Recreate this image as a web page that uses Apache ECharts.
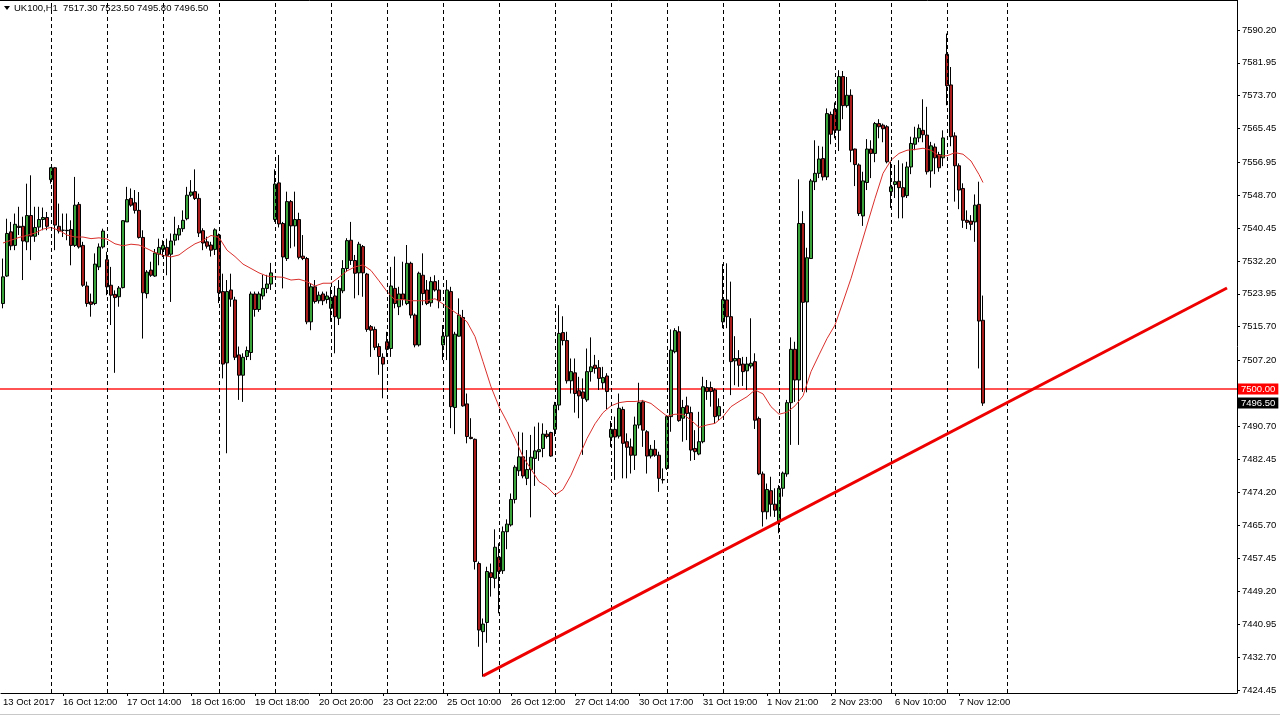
<!DOCTYPE html>
<html><head><meta charset="utf-8">
<script src="https://cdn.jsdelivr.net/npm/echarts@6/dist/echarts.min.js"></script>
<style>html,body{margin:0;padding:0;background:#fff;overflow:hidden}#c{width:1280px;height:720px}</style>
</head><body><div id="c"></div>
<script>
// ---- data (UK100, H1) ----
const opens = [7521.5,7528.4,7539.5,7536.1,7540.9,7540.9,7537.0,7543.6,7538.4,7540.7,7542.6,7543.1,7552.6,7555.6,7540.9,7539.9,7539.9,7540.1,7536.1,7546.4,7536.1,7525.9,7521.9,7521.5,7530.7,7535.7,7532.5,7526.1,7523.8,7523.2,7525.5,7542.0,7547.9,7546.8,7544.9,7538.1,7524.0,7529.9,7528.4,7533.9,7535.1,7535.6,7533.9,7537.4,7538.7,7540.3,7542.8,7548.7,7549.6,7547.9,7539.8,7537.0,7536.2,7535.1,7538.7,7524.5,7506.6,7524.9,7522.4,7508.6,7503.5,7508.2,7509.2,7523.9,7520.0,7523.4,7525.3,7526.4,7542.6,7551.8,7541.6,7532.8,7547.1,7541.0,7542.6,7533.4,7532.8,7516.9,7525.7,7522.2,7523.9,7522.5,7520.3,7523.4,7517.8,7524.7,7530.3,7537.4,7532.3,7529.2,7535.8,7528.9,7515.7,7515.0,7510.7,7508.0,7511.9,7510.2,7525.3,7520.7,7523.9,7521.5,7531.6,7518.6,7511.1,7528.6,7524.9,7521.7,7527.0,7524.9,7511.1,7513.3,7524.5,7495.4,7513.3,7518.0,7496.3,7487.9,7487.4,7456.2,7439.1,7441.4,7453.9,7452.5,7457.8,7454.4,7464.2,7465.9,7472.3,7479.5,7483.0,7477.6,7479.8,7482.6,7484.3,7485.1,7488.7,7489.1,7489.9,7496.0,7514.2,7512.2,7502.1,7504.1,7499.6,7499.3,7497.3,7504.4,7506.0,7505.4,7501.6,7503.3,7487.9,7489.9,7488.2,7494.9,7486.8,7485.5,7483.4,7491.0,7496.8,7489.3,7483.2,7484.9,7483.4,7477.3,7480.1,7493.1,7509.4,7514.4,7492.7,7495.8,7494.1,7485.1,7483.7,7486.8,7500.4,7500.4,7499.8,7493.3,7516.9,7522.4,7518.2,7507.1,7507.7,7506.3,7504.6,7505.8,7506.9,7492.6,7478.7,7469.2,7474.5,7471.1,7466.7,7475.1,7478.7,7496.6,7510.0,7502.3,7541.6,7521.9,7532.8,7552.1,7554.2,7557.9,7553.3,7569.0,7570.3,7565.0,7578.5,7571.2,7573.8,7560.3,7556.3,7543.5,7551.9,7560.3,7559.2,7566.7,7566.3,7565.9,7549.6,7551.4,7552.2,7550.6,7548.6,7555.8,7561.5,7563.1,7565.0,7563.8,7554.8,7560.8,7558.9,7558.1,7584.1,7576.4,7563.6,7556.1,7550.4,7542.4,7542.2,7542.0,7546.4,7517.3];
const highs = [7532.8,7542.8,7542.0,7544.1,7545.8,7543.3,7551.6,7553.7,7545.8,7545.8,7545.6,7544.5,7555.8,7555.8,7546.6,7544.1,7544.1,7542.4,7553.3,7547.0,7537.0,7527.0,7524.0,7534.1,7536.6,7540.3,7534.5,7530.7,7524.8,7525.9,7542.4,7550.8,7550.4,7550.0,7549.5,7539.9,7529.9,7532.0,7535.2,7537.8,7537.4,7537.8,7539.1,7543.3,7541.2,7544.9,7550.8,7552.5,7555.2,7549.1,7540.4,7538.3,7537.0,7540.4,7539.1,7529.0,7527.4,7529.0,7523.2,7510.7,7509.0,7510.7,7524.5,7524.5,7524.5,7528.7,7528.7,7531.7,7555.2,7558.8,7542.0,7549.6,7547.5,7549.6,7544.3,7538.7,7533.2,7526.6,7527.4,7524.5,7524.5,7524.5,7525.7,7525.9,7527.4,7532.4,7537.9,7542.0,7533.7,7537.0,7536.2,7529.2,7516.1,7515.7,7511.5,7509.0,7514.4,7530.7,7533.3,7525.7,7532.0,7536.2,7532.0,7519.0,7529.5,7534.1,7527.4,7528.2,7528.6,7527.4,7516.1,7527.4,7525.7,7514.4,7522.8,7519.9,7498.9,7492.7,7487.6,7456.7,7442.4,7455.4,7456.2,7464.8,7461.3,7465.5,7467.3,7473.8,7480.9,7489.3,7489.1,7484.7,7488.5,7490.6,7491.6,7491.4,7489.7,7489.3,7496.8,7521.1,7518.3,7514.4,7507.7,7507.7,7503.1,7502.7,7510.2,7513.0,7508.6,7507.3,7505.6,7504.0,7492.0,7493.1,7498.9,7495.6,7488.9,7487.6,7493.1,7501.6,7497.3,7489.7,7486.0,7487.2,7484.3,7480.1,7493.5,7515.0,7515.3,7515.8,7497.3,7498.1,7495.6,7489.7,7494.3,7503.1,7502.3,7501.9,7500.2,7497.7,7531.4,7531.6,7527.0,7513.3,7509.8,7508.1,7508.1,7517.8,7509.0,7493.1,7479.3,7476.3,7478.0,7475.1,7475.9,7479.3,7497.3,7513.0,7511.9,7552.7,7544.7,7535.5,7552.8,7562.5,7561.1,7560.9,7570.5,7569.7,7572.0,7580.1,7579.9,7578.4,7575.3,7560.4,7556.7,7554.6,7562.8,7562.5,7567.1,7567.8,7566.7,7566.3,7557.1,7556.3,7557.5,7556.7,7557.1,7563.4,7565.9,7566.5,7572.8,7570.9,7562.1,7561.7,7559.6,7565.0,7589.3,7580.9,7564.5,7556.7,7551.7,7544.9,7543.7,7548.9,7552.1,7523.5];
const lows = [7520.3,7528.2,7534.9,7534.9,7538.7,7527.4,7534.9,7532.4,7537.0,7538.7,7539.9,7539.9,7551.6,7534.9,7539.1,7538.2,7537.4,7531.1,7535.7,7535.3,7525.7,7520.7,7518.2,7521.1,7529.9,7535.3,7523.6,7516.1,7504.1,7520.7,7525.3,7542.0,7545.8,7544.1,7537.8,7512.7,7522.8,7528.2,7528.2,7531.1,7533.2,7528.6,7521.9,7536.1,7537.4,7539.5,7542.4,7548.3,7547.5,7538.2,7534.9,7535.3,7533.3,7533.7,7521.6,7502.7,7483.9,7520.7,7507.3,7497.3,7496.8,7507.3,7507.3,7518.2,7519.4,7522.5,7524.1,7524.9,7542.0,7540.6,7525.3,7532.2,7535.4,7535.8,7532.6,7532.4,7516.3,7514.8,7521.5,7521.5,7521.1,7521.5,7516.9,7509.0,7516.1,7524.1,7529.5,7531.2,7522.8,7523.6,7523.2,7514.4,7508.1,7509.8,7503.6,7497.7,7508.1,7508.1,7520.3,7518.6,7521.0,7521.1,7517.8,7510.5,7510.7,7521.1,7521.1,7520.7,7524.5,7520.3,7507.3,7507.3,7490.2,7488.7,7513.2,7495.6,7486.4,7487.4,7454.7,7435.3,7427.8,7436.3,7447.9,7450.0,7443.7,7453.6,7459.8,7465.5,7471.3,7478.2,7477.6,7475.9,7467.8,7475.7,7482.0,7482.9,7487.6,7483.0,7488.2,7494.7,7511.0,7501.4,7498.9,7494.1,7492.7,7483.5,7496.8,7501.9,7503.9,7499.8,7500.0,7495.0,7485.5,7477.2,7487.6,7477.6,7477.6,7478.8,7479.7,7490.1,7485.5,7478.8,7482.6,7483.0,7474.2,7476.3,7479.7,7489.3,7509.0,7491.8,7486.8,7487.2,7482.0,7482.2,7483.4,7486.4,7497.3,7495.6,7491.4,7492.2,7515.3,7515.3,7498.5,7501.0,7500.6,7500.8,7499.8,7505.2,7490.0,7478.4,7465.5,7467.3,7468.0,7467.9,7463.8,7473.0,7478.0,7486.0,7496.8,7486.0,7499.3,7499.2,7532.8,7550.0,7553.0,7552.4,7552.5,7561.5,7563.0,7559.8,7567.8,7570.7,7557.0,7551.0,7543.5,7541.0,7550.0,7553.0,7557.0,7563.0,7562.0,7556.7,7545.5,7548.0,7542.9,7542.9,7548.0,7554.0,7560.0,7562.0,7562.0,7553.9,7550.6,7554.0,7554.6,7556.0,7571.3,7561.0,7547.1,7545.2,7540.5,7540.2,7539.9,7537.0,7505.2,7495.8];
const closes = [7528.2,7539.1,7536.0,7541.4,7540.6,7537.2,7543.6,7538.4,7540.6,7542.6,7543.1,7540.9,7555.6,7541.2,7539.7,7539.9,7539.8,7536.1,7546.2,7535.7,7526.1,7521.5,7521.3,7531.4,7535.7,7539.7,7525.7,7523.6,7523.0,7525.4,7542.3,7547.6,7546.2,7544.9,7538.1,7524.2,7529.4,7528.6,7534.2,7535.6,7536.1,7533.6,7537.2,7538.9,7540.3,7542.4,7548.7,7549.5,7547.9,7539.2,7536.7,7535.9,7534.9,7540.0,7524.2,7506.3,7524.5,7522.6,7508.0,7503.5,7508.0,7509.7,7523.9,7520.0,7523.9,7525.3,7526.4,7529.2,7551.5,7541.5,7533.2,7547.1,7541.0,7542.6,7533.1,7532.8,7516.9,7525.7,7522.0,7523.6,7522.2,7523.4,7523.0,7518.2,7525.3,7530.3,7537.3,7532.3,7529.1,7536.4,7529.2,7515.0,7514.8,7510.5,7508.2,7506.3,7510.0,7525.9,7521.5,7523.9,7522.6,7531.6,7518.6,7511.1,7529.1,7524.0,7521.5,7527.0,7524.9,7522.2,7513.3,7524.9,7495.6,7513.8,7518.6,7495.8,7488.1,7487.6,7456.7,7439.5,7441.0,7454.2,7452.7,7460.3,7454.2,7464.2,7466.1,7472.3,7480.4,7483.0,7478.2,7479.8,7482.9,7484.5,7484.8,7488.7,7488.1,7483.2,7496.0,7514.0,7512.2,7502.1,7504.4,7498.9,7498.3,7497.7,7504.4,7505.6,7505.2,7502.7,7502.9,7499.4,7489.9,7488.0,7495.2,7486.4,7485.4,7483.4,7491.0,7496.6,7489.7,7483.2,7484.9,7483.4,7477.6,7477.2,7493.1,7509.8,7514.7,7492.1,7495.4,7493.9,7484.7,7484.3,7486.8,7500.6,7499.4,7499.4,7493.1,7495.6,7522.5,7518.2,7506.9,7507.7,7506.0,7504.4,7506.3,7506.5,7492.2,7478.7,7469.2,7474.8,7471.1,7469.6,7475.1,7478.9,7496.6,7510.0,7502.3,7541.6,7521.8,7533.0,7552.3,7554.2,7557.8,7553.3,7569.2,7564.0,7565.0,7578.5,7571.2,7573.8,7560.0,7556.4,7544.1,7552.3,7560.3,7559.2,7566.7,7565.9,7565.4,7557.1,7550.8,7552.1,7550.6,7548.3,7555.8,7561.7,7563.1,7565.5,7563.9,7554.6,7561.1,7558.1,7555.6,7563.1,7576.2,7563.4,7556.1,7550.0,7542.4,7541.9,7541.4,7546.2,7517.1,7496.5];
// moving average (every other bar)
const maValues = [7536.7,null,7537.4,null,7538.1,null,7538.6,null,7539.2,null,7540.2,null,7540.6,null,7539.9,null,7538.7,null,7538.2,null,7538.2,null,7537.8,null,7538.0,null,7537.7,null,7536.5,null,7536.0,null,7536.4,null,7536.2,null,7535.3,null,7534.3,null,7533.6,null,7533.2,null,7533.7,null,7535.2,null,7536.5,null,7537.3,null,7538.6,null,7538.1,null,7534.9,null,7533.3,null,7531.4,null,7530.3,null,7529.2,null,7528.4,null,7528.2,null,7528.1,null,7527.4,null,7527.6,null,7527.0,null,7525.9,null,7526.6,null,7526.6,null,7528.1,null,7529.7,null,7530.7,null,7531.2,null,7529.8,null,7527.2,null,7524.5,null,7522.4,null,7522.5,null,7522.2,null,7522.2,null,7522.2,null,7522.7,null,7521.4,null,7520.0,null,7518.6,null,7516.9,null,7513.2,null,7506.9,null,7500.6,null,7495.6,null,7491.8,null,7487.6,null,7483.0,null,7479.9,null,7476.8,null,7475.5,null,7473.4,null,7474.8,null,7478.4,null,7483.0,null,7487.6,null,7491.3,null,7494.1,null,7495.8,null,7496.6,null,7496.9,null,7496.9,null,7497.1,null,7496.4,null,7494.8,null,7493.2,null,7493.7,null,7493.7,null,7492.2,null,7490.4,null,7491.0,null,7491.4,null,7493.1,null,7495.6,null,7496.9,null,7498.1,null,7499.8,null,7498.8,null,7495.6,null,7493.7,null,7494.2,null,7495.8,null,7498.3,null,7504.4,null,7508.6,null,7512.7,null,7516.1,null,7521.9,null,7527.8,null,7534.5,null,7541.2,null,7547.9,null,7554.2,null,7557.5,null,7559.2,null,7560.0,null,7560.2,null,7560.5,null,7560.0,null,7558.6,null,7558.6,null,7559.4,null,7559.0,null,7557.3,null,7553.9,7551.9];
const slotCount = 309; // bar slots across the chart window
const categories = Array.from({length: slotCount}, (_, i) => String(i));
const timeLabelBars = [0,15,31,47,63,79,95,111,127,143,159,175,191,207,223,239];
const timeLabelTexts = ['13 Oct 2017','16 Oct 12:00','17 Oct 14:00','18 Oct 16:00','19 Oct 18:00','20 Oct 20:00','23 Oct 22:00','25 Oct 10:00','26 Oct 12:00','27 Oct 14:00','30 Oct 17:00','31 Oct 19:00','1 Nov 21:00','2 Nov 23:00','6 Nov 10:00','7 Nov 12:00'];
const separatorBars = [12,26,40,54,68,82,96,110,124,138,152,166,180,194,208,222,236,251];
const priceTicks = [7590.20,7581.95,7573.70,7565.45,7556.95,7548.70,7540.45,7532.20,7523.95,7515.70,7507.20,7490.70,7482.45,7474.20,7465.70,7457.45,7449.20,7440.95,7432.70,7424.45];
const trendLine = [[120, 7428.0], [306, 7525.4]];
const levelPrice = 7500.00;
const lastPrice = 7496.50;
const headerText = 'UK100,H1  7517.30 7523.50 7495.80 7496.50';
const priceMin = 7423.69, priceMax = 7597.73;

// ---- chart ----
const FONT = 'Liberation Sans, Arial, sans-serif';
const chart = echarts.init(document.getElementById('c'), null, {renderer: 'canvas'});
const labelMap = {};
timeLabelBars.forEach((b, k) => { labelMap[b] = timeLabelTexts[k]; });
const candleData = opens.map((o, i) => [o, closes[i], lows[i], highs[i]]);

const baseGraphics = [
  {id: 'topBorder', type: 'line', shape: {x1: 0, y1: 0.5, x2: 1237, y2: 0.5}, style: {stroke: '#000', lineWidth: 1}, silent: true},
  {id: 'tri', type: 'polygon', shape: {points: [[4, 6], [10, 6], [7, 10]]}, style: {fill: '#000'}, silent: true},
  {id: 'hdr', type: 'text', x: 14, y: 3, style: {text: headerText, font: '9.5px ' + FONT, fill: '#000'}, silent: true},
  {id: 'bottomLine', type: 'line', shape: {x1: 0, y1: 714.5, x2: 1280, y2: 714.5}, style: {stroke: '#c8c8c8', lineWidth: 1}, silent: true}
];

chart.setOption({
  animation: false,
  backgroundColor: '#ffffff',
  grid: {left: 1, top: 0, width: slotCount * 4, height: 693, containLabel: false, outerBoundsMode: 'none'},
  xAxis: {
    type: 'category', data: categories, boundaryGap: true,
    axisLine: {show: true, lineStyle: {color: '#000', width: 1}},
    axisTick: {show: true, alignWithLabel: true, length: 3, lineStyle: {color: '#000'},
      interval: (idx) => labelMap[idx] !== undefined && idx > 0},
    axisLabel: {show: true, interval: (idx) => labelMap[idx] !== undefined, formatter: (v, idx) => labelMap[idx] || '',
      align: 'left', margin: 4, fontSize: 9.5, fontFamily: FONT, color: '#000', hideOverlap: false},
    splitLine: {show: false}
  },
  yAxis: {
    type: 'value', position: 'right', min: priceMin, max: priceMax, scale: true,
    axisLine: {show: true, lineStyle: {color: '#000', width: 1}},
    axisTick: {show: true, length: 3, lineStyle: {color: '#000'}, customValues: priceTicks},
    axisLabel: {show: true, customValues: priceTicks, formatter: (v) => Number(v).toFixed(2),
      margin: 5, fontSize: 9.5, fontFamily: FONT, color: '#000'},
    splitLine: {show: false}
  },
  series: [
    {
      type: 'candlestick', data: candleData, barWidth: 3, z: 3,
      itemStyle: {color: '#3aa33a', color0: '#a81c1c', borderColor: '#000', borderColor0: '#000', borderColorDoji: '#000', borderWidth: 1},
      markLine: {
        silent: true, symbol: ['none', 'none'], animation: false,
        label: {show: false},
        lineStyle: {color: '#000', type: [4, 3], width: 1},
        data: separatorBars.map(b => ({xAxis: b}))
      }
    },
    {
      type: 'line', data: maValues, connectNulls: true, symbol: 'none', z: 4,
      lineStyle: {color: '#d9302c', width: 1}, itemStyle: {color: '#d9302c'}, silent: true
    },
    {
      type: 'line', data: trendLine, symbol: 'none', z: 5,
      lineStyle: {color: '#ee0000', width: 3}, itemStyle: {color: '#ee0000'}, silent: true
    }
  ],
  graphic: baseGraphics
});

// level line and price tags, positioned through the y axis scale
const levelY = Math.round(chart.convertToPixel({yAxisIndex: 0}, levelPrice));
const tagY = chart.convertToPixel({yAxisIndex: 0}, lastPrice);
chart.setOption({graphic: baseGraphics.concat([
  {id: 'levelLine', type: 'line', z: 2, shape: {x1: 0, y1: levelY, x2: 1237, y2: levelY}, style: {stroke: '#ff1a1a', lineWidth: 1.4}, silent: true},
  {id: 'levelTag', type: 'text', x: 1238, y: levelY, z: 100,
    style: {text: levelPrice.toFixed(2), font: '9.5px ' + FONT, fill: '#fff', backgroundColor: '#ff0000', padding: [1, 3, 0, 3], verticalAlign: 'middle'}, silent: true},
  {id: 'lastTag', type: 'text', x: 1238, y: tagY, z: 100,
    style: {text: lastPrice.toFixed(2), font: '9.5px ' + FONT, fill: '#fff', backgroundColor: '#000', padding: [1, 3, 0, 3], verticalAlign: 'middle'}, silent: true}
])});
</script>
</body></html>
